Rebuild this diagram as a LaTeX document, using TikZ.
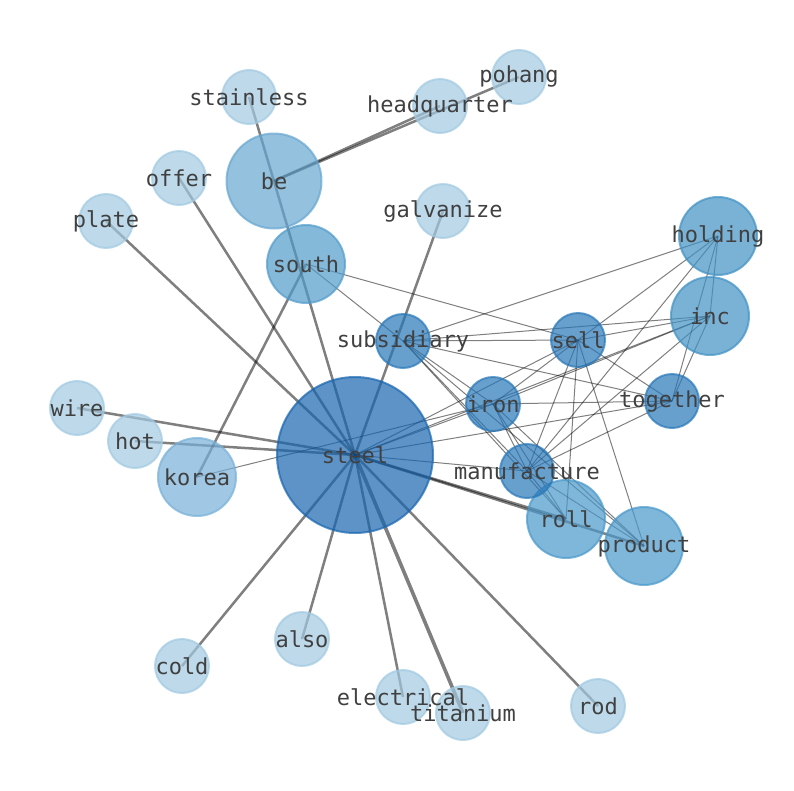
\documentclass[tikz,border=0pt]{standalone}
\usepackage{fontspec}
\setmonofont{DejaVu Sans Mono}
\pgfdeclarelayer{edges}
\pgfsetlayers{edges,main}
\definecolor{paleblue}{RGB}{161,201,225}
\definecolor{beblue}{RGB}{102,166,208}
\definecolor{southblue}{RGB}{81,155,202}
\definecolor{koreablue}{RGB}{119,176,216}
\definecolor{holdblue}{RGB}{65,145,196}
\definecolor{rollblue}{RGB}{73,152,202}
\definecolor{midblue}{RGB}{40,119,184}
\definecolor{steelblue}{RGB}{24,101,175}
\begin{document}
\begin{tikzpicture}[x=1pt,y=-1pt,
    word/.style={circle,inner sep=0pt,line width=2pt,fill opacity=0.7,draw opacity=0.7},
    leaf/.style={word,minimum size=54pt,draw=paleblue,fill=paleblue},
    hub/.style={word,minimum size=54pt,draw=midblue,fill=midblue},
    wide/.style={word,minimum size=78pt},
    lab/.style={font=\ttfamily\fontsize{22}{22}\selectfont,text=black!75,inner sep=0pt},
    link/.style={line width=2.5pt,draw=black,draw opacity=0.5},
    thinlink/.style={line width=1pt,draw=black,draw opacity=0.5}]

    \useasboundingbox (0,0) rectangle (794,790);

    % circles
    \node[word,minimum size=156pt,draw=steelblue,fill=steelblue] (steel) at (355,455) {};
    \node[word,minimum size=95pt,draw=beblue,fill=beblue] (be) at (274,181) {};
    \node[wide,draw=southblue,fill=southblue] (south) at (306,264) {};
    \node[wide,draw=koreablue,fill=koreablue] (korea) at (197,477) {};
    \node[wide,draw=holdblue,fill=holdblue] (holding) at (718,236) {};
    \node[wide,draw=holdblue,fill=holdblue] (inc) at (710,316) {};
    \node[wide,draw=rollblue,fill=rollblue] (roll) at (566,519) {};
    \node[wide,draw=rollblue,fill=rollblue] (product) at (644,546) {};
    \node[hub] (subsidiary) at (403,341) {};
    \node[hub] (sell) at (578,340) {};
    \node[hub] (iron) at (493,404) {};
    \node[hub] (together) at (672,401) {};
    \node[hub] (manufacture) at (527,471) {};
    \node[leaf] (stainless) at (249,97) {};
    \node[leaf] (headquarter) at (440,106) {};
    \node[leaf] (pohang) at (519,77) {};
    \node[leaf] (offer) at (179,178) {};
    \node[leaf] (plate) at (106,221) {};
    \node[leaf] (galvanize) at (443,211) {};
    \node[leaf] (wire) at (77,408) {};
    \node[leaf] (hot) at (135,441) {};
    \node[leaf] (cold) at (182,666) {};
    \node[leaf] (also) at (302,639) {};
    \node[leaf] (electrical) at (403,697) {};
    \node[leaf] (titanium) at (463,713) {};
    \node[leaf] (rod) at (598,706) {};

    % edges
    \begin{pgfonlayer}{edges}
    \draw[link] (steel.center) -- (plate.center);
    \draw[link] (steel.center) -- (offer.center);
    \draw[link] (steel.center) -- (stainless.center);
    \draw[link] (steel.center) -- (galvanize.center);
    \draw[link] (steel.center) -- (wire.center);
    \draw[link] (steel.center) -- (hot.center);
    \draw[link] (steel.center) -- (cold.center);
    \draw[link] (steel.center) -- (also.center);
    \draw[link] (steel.center) -- (electrical.center);
    \draw[link,line width=3.6pt] (steel.center) -- (titanium.center);
    \draw[link] (steel.center) -- (rod.center);
    \draw[link] (steel.center) -- (roll.center);
    \draw[link] (steel.center) -- (product.center);
    \draw[link] (be.center) -- (headquarter.center);
    \draw[link] (be.center) -- (pohang.center);
    \draw[link] (south.center) -- (korea.center);

    \draw[thinlink] (south.center) -- (sell.center);
    \draw[thinlink] (south.center) -- (subsidiary.center);
    \draw[thinlink] (korea.center) -- (iron.center);
    \draw[thinlink] (steel.center) -- (iron.center);
    \draw[thinlink] (steel.center) -- (sell.center);
    \draw[thinlink] (steel.center) -- (together.center);
    \draw[thinlink] (steel.center) -- (manufacture.center);
    \draw[thinlink] (steel.center) -- (inc.center);
    \draw[thinlink] (subsidiary.center) -- (sell.center);
    \draw[thinlink] (subsidiary.center) -- (inc.center);
    \draw[thinlink] (subsidiary.center) -- (holding.center);
    \draw[thinlink] (subsidiary.center) -- (together.center);
    \draw[thinlink] (subsidiary.center) -- (iron.center);
    \draw[thinlink] (subsidiary.center) -- (manufacture.center);
    \draw[thinlink] (subsidiary.center) -- (roll.center);
    \draw[thinlink] (subsidiary.center) -- (product.center);
    \draw[thinlink] (iron.center) -- (sell.center);
    \draw[thinlink] (iron.center) -- (together.center);
    \draw[thinlink] (iron.center) -- (inc.center);
    \draw[thinlink] (iron.center) -- (manufacture.center);
    \draw[thinlink] (iron.center) -- (roll.center);
    \draw[thinlink] (iron.center) -- (product.center);
    \draw[thinlink] (sell.center) -- (manufacture.center);
    \draw[thinlink] (sell.center) -- (roll.center);
    \draw[thinlink] (sell.center) -- (product.center);
    \draw[thinlink] (sell.center) -- (holding.center);
    \draw[thinlink] (sell.center) -- (inc.center);
    \draw[thinlink] (sell.center) -- (together.center);
    \draw[thinlink] (manufacture.center) -- (holding.center);
    \draw[thinlink] (manufacture.center) -- (inc.center);
    \draw[thinlink] (manufacture.center) -- (together.center);
    \draw[thinlink] (manufacture.center) -- (roll.center);
    \draw[thinlink] (manufacture.center) -- (product.center);
    \draw[thinlink] (holding.center) -- (inc.center);
    \draw[thinlink] (holding.center) -- (together.center);
    \draw[thinlink] (inc.center) -- (together.center);
    \end{pgfonlayer}

    % labels
    \node[lab] (steel-t) at (steel) {steel};
    \node[lab] (be-t) at (be) {be};
    \node[lab] (south-t) at (south) {south};
    \node[lab] (korea-t) at (korea) {korea};
    \node[lab] (holding-t) at (holding) {holding};
    \node[lab] (inc-t) at (inc) {inc};
    \node[lab] (roll-t) at (roll) {roll};
    \node[lab] (product-t) at (product) {product};
    \node[lab] (subsidiary-t) at (subsidiary) {subsidiary};
    \node[lab] (sell-t) at (sell) {sell};
    \node[lab] (iron-t) at (iron) {iron};
    \node[lab] (together-t) at (together) {together};
    \node[lab] (manufacture-t) at (manufacture) {manufacture};
    \node[lab] (stainless-t) at (stainless) {stainless};
    \node[lab] (headquarter-t) at (headquarter) {headquarter};
    \node[lab] (pohang-t) at (pohang) {pohang};
    \node[lab] (offer-t) at (offer) {offer};
    \node[lab] (plate-t) at (plate) {plate};
    \node[lab] (galvanize-t) at (galvanize) {galvanize};
    \node[lab] (wire-t) at (wire) {wire};
    \node[lab] (hot-t) at (hot) {hot};
    \node[lab] (cold-t) at (cold) {cold};
    \node[lab] (also-t) at (also) {also};
    \node[lab] (electrical-t) at (electrical) {electrical};
    \node[lab] (titanium-t) at (titanium) {titanium};
    \node[lab] (rod-t) at (rod) {rod};
\end{tikzpicture}
\end{document}
